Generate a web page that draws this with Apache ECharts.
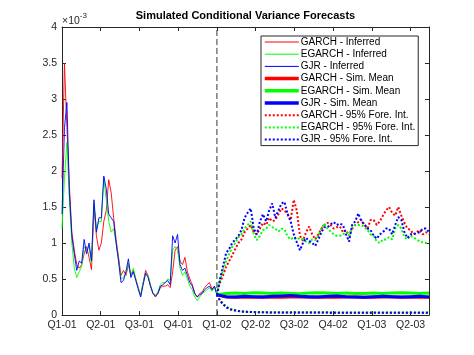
<!DOCTYPE html>
<html>
<head>
<meta charset="utf-8">
<script src="https://cdn.jsdelivr.net/npm/echarts@6/dist/echarts.min.js"></script>
<style>
html,body{margin:0;padding:0;background:#fff;}
#c{width:474px;height:355px;}
</style>
</head>
<body>
<div id="c"></div>
<script>
// ---- data (values in units of 1e-3) ----
var quarterLabels = ['Q1-01','Q2-01','Q3-01','Q4-01','Q1-02','Q2-02','Q3-02','Q4-02','Q1-03','Q2-03'];
var daysPerQuarter = 63;
var lastDay = 597;
var forecastStart = 252;
var yTicks = [0,0.5,1,1.5,2,2.5,3,3.5,4];

// inferred conditional variances (every 4 trading days from day 0)
var inferredStep = 4;
var garchInferred = [1.9,3.5,2.6,1.8,1.15,0.9,0.7,0.65,0.7,0.85,0.95,0.8,0.63,1.5,1.1,0.9,1.0,1.3,1.45,1.88,1.7,1.35,1.05,0.8,0.55,0.62,0.55,0.7,0.55,0.62,0.5,0.38,0.27,0.45,0.62,0.55,0.4,0.3,0.25,0.3,0.38,0.4,0.4,0.42,0.38,0.6,0.9,0.95,0.75,0.7,0.8,0.6,0.5,0.42,0.3,0.25,0.3,0.32,0.38,0.42,0.45,0.36,0.4,0.3];
var egarchInferred = [1.2,1.9,2.4,1.6,1.0,0.65,0.52,0.6,0.68,0.95,0.9,0.95,0.72,1.55,1.2,1.3,1.3,1.9,1.6,1.3,1.15,1.2,1.0,0.75,0.5,0.52,0.58,0.72,0.55,0.65,0.5,0.38,0.28,0.45,0.58,0.55,0.42,0.3,0.28,0.32,0.42,0.45,0.45,0.5,0.48,0.9,0.95,0.9,0.65,0.55,0.6,0.5,0.4,0.35,0.25,0.2,0.25,0.3,0.32,0.35,0.38,0.33,0.38,0.28];
var gjrInferred = [1.4,2.6,2.95,1.7,1.1,0.85,0.62,0.75,0.72,1.05,0.85,1.0,0.75,1.6,1.15,1.35,1.35,1.93,1.75,1.4,1.35,1.3,1.0,0.75,0.45,0.48,0.6,0.78,0.52,0.6,0.48,0.36,0.25,0.42,0.58,0.52,0.4,0.3,0.26,0.3,0.4,0.42,0.45,0.48,0.42,1.1,1.0,1.12,0.7,0.62,0.65,0.55,0.45,0.4,0.3,0.25,0.28,0.3,0.35,0.38,0.4,0.35,0.4,0.28];

// simulated means (every 15 days from forecast start)
var meanStep = 15;
var garchMean = [0.28,0.25,0.245,0.245,0.245,0.25,0.245,0.245,0.25,0.25,0.245,0.25,0.245,0.245,0.25,0.25,0.245,0.245,0.25,0.25,0.245,0.245,0.25,0.245];
var egarchMean = [0.28,0.3,0.305,0.3,0.31,0.305,0.3,0.305,0.3,0.295,0.305,0.31,0.305,0.3,0.305,0.3,0.3,0.305,0.3,0.305,0.31,0.305,0.3,0.305];
var gjrMean = [0.28,0.255,0.25,0.26,0.255,0.25,0.26,0.265,0.27,0.26,0.255,0.25,0.26,0.265,0.255,0.25,0.245,0.255,0.26,0.255,0.25,0.255,0.26,0.25];

// upper 95% forecast interval (every 5 days from forecast start)
var upperStep = 5;
var garchUpper = [0.28,0.45,0.55,0.67,0.75,0.83,0.92,1.0,1.05,1.15,1.2,1.25,1.15,1.12,1.2,1.28,1.25,1.35,1.3,1.32,1.4,1.48,1.45,1.4,1.32,1.6,1.45,1.1,1.03,1.15,1.23,1.12,1.05,1.12,1.2,1.25,1.28,1.25,1.2,1.22,1.23,1.15,1.18,1.1,1.2,1.25,1.29,1.32,1.25,1.2,1.32,1.32,1.25,1.3,1.38,1.45,1.5,1.42,1.38,1.5,1.38,1.28,1.2,1.18,1.12,1.15,1.18,1.12,1.15,1.12];
var egarchUpper = [0.30,0.48,0.62,0.75,0.85,0.95,1.0,1.08,1.12,1.2,1.25,1.3,1.12,1.04,1.1,1.18,1.2,1.25,1.22,1.2,1.16,1.2,1.19,1.09,1.05,1.08,1.05,1.07,1.05,1.02,1.0,1.05,1.04,1.1,1.2,1.27,1.2,1.16,1.12,1.1,1.1,1.12,1.15,1.1,1.22,1.25,1.25,1.25,1.22,1.18,1.12,1.1,1.02,1.0,1.05,1.05,1.08,1.05,1.2,1.25,1.2,1.08,1.05,1.1,1.08,1.05,1.02,1.01,1.0,1.0];
var gjrUpper = [0.28,0.5,0.68,0.86,0.92,1.0,1.05,1.1,1.18,1.35,1.42,1.48,1.2,1.12,1.3,1.4,1.3,1.45,1.55,1.35,1.45,1.55,1.57,1.4,1.3,1.12,1.01,0.9,1.0,1.07,1.03,1.0,0.96,1.05,1.15,1.22,1.22,1.26,1.29,1.25,1.27,1.25,1.12,1.02,1.25,1.3,1.41,1.3,1.26,1.2,1.18,1.1,1.06,1.12,1.15,1.2,1.2,1.12,1.25,1.36,1.32,1.15,1.07,1.12,1.12,1.14,1.15,1.2,1.2,1.15];

// lower 95% forecast interval
var lowerDays = [252,257,262,267,272,277,287,297,312,342,387,432,477,522,567,597];
var garchLower = [0.28,0.2,0.15,0.11,0.085,0.07,0.055,0.045,0.04,0.035,0.033,0.033,0.032,0.032,0.032,0.032];
var egarchLower = [0.28,0.21,0.16,0.12,0.09,0.075,0.058,0.048,0.042,0.037,0.035,0.034,0.034,0.033,0.033,0.033];
var gjrLower = [0.28,0.2,0.15,0.11,0.085,0.07,0.055,0.045,0.04,0.035,0.033,0.033,0.032,0.032,0.032,0.032];

var names = ['GARCH - Inferred','EGARCH - Inferred','GJR - Inferred','GARCH - Sim. Mean','EGARCH - Sim. Mean','GJR - Sim. Mean','GARCH - 95% Fore. Int.','EGARCH - 95% Fore. Int.','GJR - 95% Fore. Int.'];

// ---- build ----
function pairs(start, step, vals){ return vals.map(function(v,i){ return [start+i*step, v]; }); }
function pairsX(xs, vals){ return vals.map(function(v,i){ return [xs[i], v]; }); }
var RED='#ff0000', GREEN='#00ff00', BLUE='#0000ff';
var AX='#262626';
var FONT='"Liberation Sans", Arial, Helvetica, sans-serif';

function ser(name, data, color, width, type){
  return {name:name, type:'line', data:data, symbol:'none', showSymbol:false, silent:true,
    lineStyle:{color:color, width:width, type:type||'solid'}, itemStyle:{color:color}, z:2};
}
var dotted=[2,2];
var series = [
  ser(names[0], pairs(0,inferredStep,garchInferred), RED, 0.9),
  ser(names[1], pairs(0,inferredStep,egarchInferred), GREEN, 0.9),
  ser(names[2], pairs(0,inferredStep,gjrInferred), BLUE, 0.9),
  ser(names[3], pairs(forecastStart,meanStep,garchMean), RED, 3),
  ser(names[4], pairs(forecastStart,meanStep,egarchMean), GREEN, 3),
  ser(names[5], pairs(forecastStart,meanStep,gjrMean), BLUE, 3),
  ser(names[6], pairs(forecastStart,upperStep,garchUpper), RED, 2, dotted),
  ser(names[6], pairsX(lowerDays,garchLower), RED, 2, dotted),
  ser(names[7], pairs(forecastStart,upperStep,egarchUpper), GREEN, 2, dotted),
  ser(names[7], pairsX(lowerDays,egarchLower), GREEN, 2, dotted),
  ser(names[8], pairs(forecastStart,upperStep,gjrUpper), BLUE, 2, dotted),
  ser(names[8], pairsX(lowerDays,gjrLower), BLUE, 2, dotted),
  {name:'split', type:'line', data:[[forecastStart,yTicks[0]],[forecastStart,yTicks[yTicks.length-1]]], symbol:'none', silent:true,
    lineStyle:{color:'#3a3a3a', width:1, type:[6,3]}, z:1}
];

var qTicks = quarterLabels.map(function(_,i){ return i*daysPerQuarter; });

var legendData = names.map(function(n,i){
  var col=[RED,GREEN,BLUE][i%3];
  var w = i<3?1:(i<6?3.5:2);
  return {name:n, itemStyle:{opacity:0}, lineStyle:{color:col, width:w, type: i>=6?dotted:'solid', opacity:1}};
});

var chart = echarts.init(document.getElementById('c'), null, {renderer:'canvas'});
chart.setOption({
  animation:false,
  backgroundColor:'#ffffff',
  textStyle:{fontFamily:FONT},
  grid:{left:62, right:45, top:27, bottom:40, containLabel:false},
  xAxis:[{
    type:'value', min:0, max:lastDay, position:'bottom',
    axisLine:{show:true, onZero:false, lineStyle:{color:AX, width:1}},
    axisTick:{show:true, inside:true, length:4, customValues:qTicks, lineStyle:{color:AX}},
    axisLabel:{customValues:qTicks, color:AX, fontSize:10.5, fontFamily:FONT, margin:5,
      formatter:function(v){ return quarterLabels[Math.round(v/daysPerQuarter)]; }},
    splitLine:{show:false}
  },{
    type:'value', min:0, max:lastDay, position:'top',
    axisLine:{show:true, onZero:false, lineStyle:{color:AX, width:1}},
    axisTick:{show:true, inside:true, length:4, customValues:qTicks, lineStyle:{color:AX}},
    axisLabel:{show:false}, splitLine:{show:false}
  }],
  yAxis:[{
    type:'value', min:0, max:4, interval:0.5, position:'left',
    axisLine:{show:true, onZero:false, lineStyle:{color:AX, width:1}},
    axisTick:{show:true, inside:true, length:4, lineStyle:{color:AX}},
    axisLabel:{color:AX, fontSize:10.5, fontFamily:FONT, margin:5},
    splitLine:{show:false}
  },{
    type:'value', min:0, max:4, interval:0.5, position:'right',
    axisLine:{show:true, onZero:false, lineStyle:{color:AX, width:1}},
    axisTick:{show:true, inside:true, length:4, lineStyle:{color:AX}},
    axisLabel:{show:false}, splitLine:{show:false}
  }],
  legend:{
    orient:'vertical', left:261, top:36,
    data:legendData,
    itemWidth:34, itemHeight:12, itemGap:2.2,
    padding:[1,3,1,2],
    borderColor:AX, borderWidth:1, backgroundColor:'#ffffff',
    textStyle:{color:'#000', fontSize:10, fontFamily:FONT, padding:[0,0,0,-3]},
    selectedMode:false
  },
  graphic:[
    {type:'text', x:245.5, y:10, z:10,
      style:{text:'Simulated Conditional Variance Forecasts', fill:'#000', font:'bold 11px '+FONT, textAlign:'center'}},
    {type:'text', x:62, y:12, z:10,
      style:{text:'{a|\u00d710}{b|-3}', rich:{a:{fontSize:10.5, fill:AX, fontFamily:FONT, padding:[4,0,0,0]}, b:{fontSize:8, fill:AX, fontFamily:FONT, verticalAlign:'top', padding:[0,0,6,0]}}}}
  ],
  series:series
});
</script>
</body>
</html>
